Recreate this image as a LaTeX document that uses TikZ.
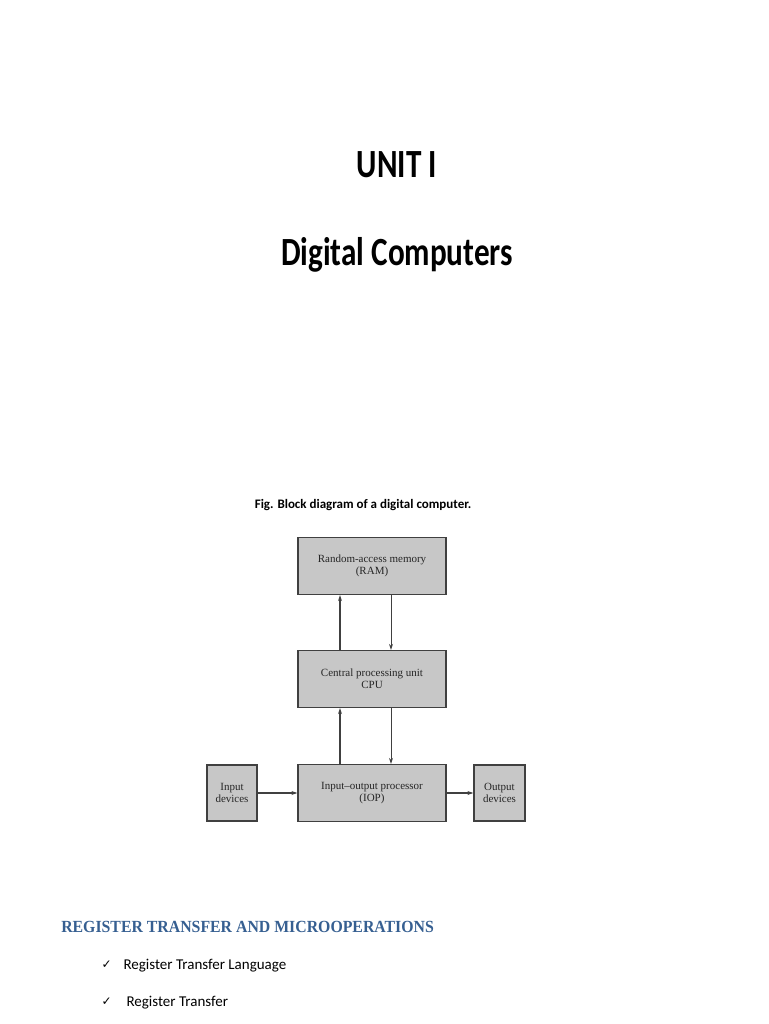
\documentclass[tikz,border=0pt]{standalone}
\usepackage{fontspec}
\setmainfont{Liberation Serif}
\newfontfamily\carfont{Carlito}
\newfontfamily\dejafont{DejaVu Sans}
\usetikzlibrary{arrows.meta}
\begin{document}
\begin{tikzpicture}[x=1pt,y=-1pt,
  blk/.style={draw=black!75,line width=1.2pt,fill=black!22,inner sep=0pt,align=center,font=\fontsize{11}{12}\selectfont,text=black!85},
  conn/.style={line width=1.3pt,draw=black!75,-{Stealth[length=6pt,width=4pt]}},
  thin/.style={line width=0.8pt,draw=black!75,-{Stealth[length=6pt,width=4pt]}}]
\useasboundingbox (0,0) rectangle (768,1024);
\node[font=\carfont\bfseries\fontsize{40}{40}\selectfont,xscale=0.78] (t1) at (397,165) {UNIT I};
\node[font=\carfont\bfseries\fontsize{40}{40}\selectfont,xscale=0.78] (t2) at (397,255) {Digital Computers};
\node[font=\carfont\bfseries\fontsize{13}{14}\selectfont] (cap) at (363,505) {Fig. Block diagram of a digital computer.};
\node[blk,minimum width=148,minimum height=57] (ram) at (372,566) {Random-access memory\\(RAM)};
\node[blk,minimum width=148,minimum height=57] (cpu) at (372,679) {Central processing unit\\CPU};
\node[blk,minimum width=148,minimum height=57] (iop) at (372,793) {Input--output processor\\(IOP)};
\node[blk,minimum width=50,minimum height=56] (in) at (232,793) {Input\\devices};
\node[blk,minimum width=51,minimum height=56] (out) at (499.5,793) {Output\\devices};
\draw[conn] (cpu.north -| 340,0) -- (ram.south -| 340,0);
\draw[thin] (ram.south -| 391,0) -- (cpu.north -| 391,0);
\draw[conn] (iop.north -| 340,0) -- (cpu.south -| 340,0);
\draw[thin] (cpu.south -| 391,0) -- (iop.north -| 391,0);
\draw[conn] (in) -- (iop);
\draw[conn] (iop) -- (out);
\node[anchor=west,font=\bfseries\fontsize{17}{18}\selectfont,text={rgb,255:red,54;green,95;blue,145},xscale=0.93] (h) at (58,927) {REGISTER TRANSFER AND MICROOPERATIONS};
\node[anchor=west,font=\dejafont\fontsize{12}{12}\selectfont] (c1) at (98,965) {✓};
\node[anchor=west,font=\carfont\fontsize{15}{16}\selectfont] (b1) at (120,966) {Register Transfer Language};
\node[anchor=west,font=\dejafont\fontsize{12}{12}\selectfont] (c2) at (98,1002) {✓};
\node[anchor=west,font=\carfont\fontsize{15}{16}\selectfont] (b2) at (123,1003) {Register Transfer};
\end{tikzpicture}
\end{document}
